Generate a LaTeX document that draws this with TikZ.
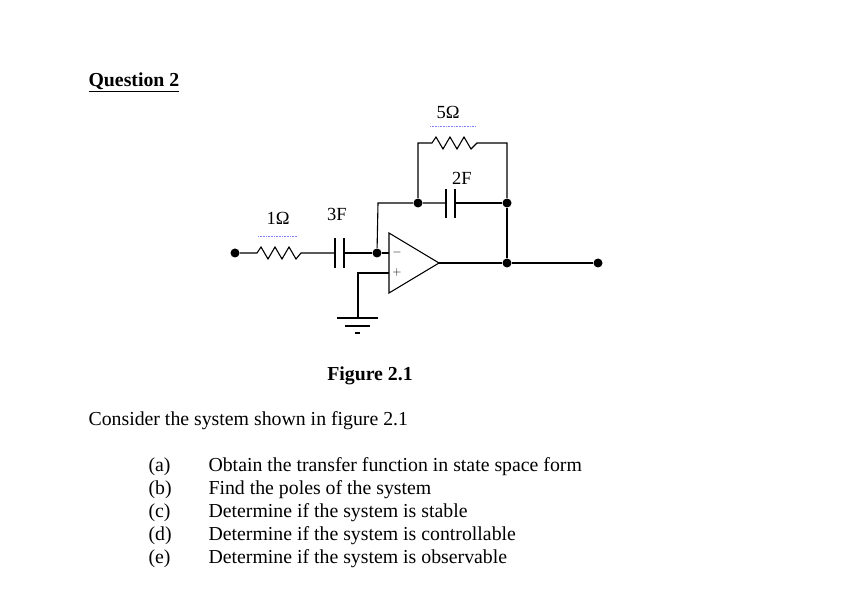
\documentclass[tikz,border=0pt]{standalone}
\usepackage{fontspec}
\setmainfont{Liberation Serif}
\begin{document}
\begin{tikzpicture}[x=1pt,y=-1pt,line width=1.1pt,
 dot/.style={circle,fill,inner sep=0pt,minimum size=9pt},
 lbl/.style={font=\fontsize{18.5}{20}\selectfont,inner sep=0pt},
 txt/.style={font=\fontsize{19.8}{22}\selectfont,inner sep=0pt,anchor=west}]
\useasboundingbox (0,0) rectangle (843,609);
% nodes
\node[dot] (in) at (235,253) {};
\node[dot] (n1) at (377,253) {};
\node[dot] (n2) at (418,203) {};
\node[dot] (n3) at (507,203) {};
\node[dot] (n4) at (507,263) {};
\node[dot] (out) at (598,263) {};
\coordinate (g) at (358,318);
% input resistor
\draw (in) -- (257,253) -- (261,247) -- (268,259) -- (275,247) -- (282,259) -- (289,247) -- (296,259) -- (301,253) -- (335,253);
\draw (335,238) -- (335,268) (344,238) -- (344,268);
\draw (344,253) -- (n1);
% op amp
\draw (389,233) -- (439,263) -- (389,293) -- cycle;
\draw (n1) -- (389,253);
\draw (389,273) -- (358,273) -- (g);
\draw (337,318) -- (378,318) (345,326) -- (370,326) (355,333) -- (360,333);
\node[font=\fontsize{12}{12}\selectfont] at (397,253) {$-$};
\node[font=\fontsize{12}{12}\selectfont] at (397,273) {$+$};
\draw (439,263) -- (n4) -- (out);
% feedback
\draw (n1) -- (378,203) -- (n2) -- (446,203);
\draw (446,189) -- (446,218) (455,189) -- (455,218);
\draw (455,203) -- (n3) -- (n4);
\draw (n2) -- (418,143) -- (432,143) -- (436,137) -- (443,149) -- (450,137) -- (457,149) -- (464,137) -- (471,149) -- (477,143) -- (507,143) -- (n3);
% labels
\node[lbl] (l1) at (278,218) {1Ω};
\node[lbl] (l3) at (337,214) {3F};
\node[lbl] (l2) at (462,178) {2F};
\node[lbl] (l5) at (448,112) {5Ω};
\draw[blue!50,densely dotted,line width=0.6pt] (258,236) -- (298,236) (430,126) -- (476,126);
% text
\node[txt,font=\bfseries\fontsize{19.8}{22}\selectfont] (q) at (88,82) {\underline{Question 2}};
\node[txt,font=\bfseries\fontsize{19.8}{22}\selectfont,anchor=center] (f) at (370,376) {Figure 2.1};
\node[txt] (c) at (88,421) {Consider the system shown in figure 2.1};
\foreach \l/\t [count=\i] in {a/Obtain the transfer function in state space form,b/Find the poles of the system,c/Determine if the system is stable,d/Determine if the system is controllable,e/Determine if the system is observable}{
 \node[txt] (k\i) at (148,444+23*\i) {(\l)};
 \node[txt] (t\i) at (208,444+23*\i) {\t};
}
\end{tikzpicture}
\end{document}
